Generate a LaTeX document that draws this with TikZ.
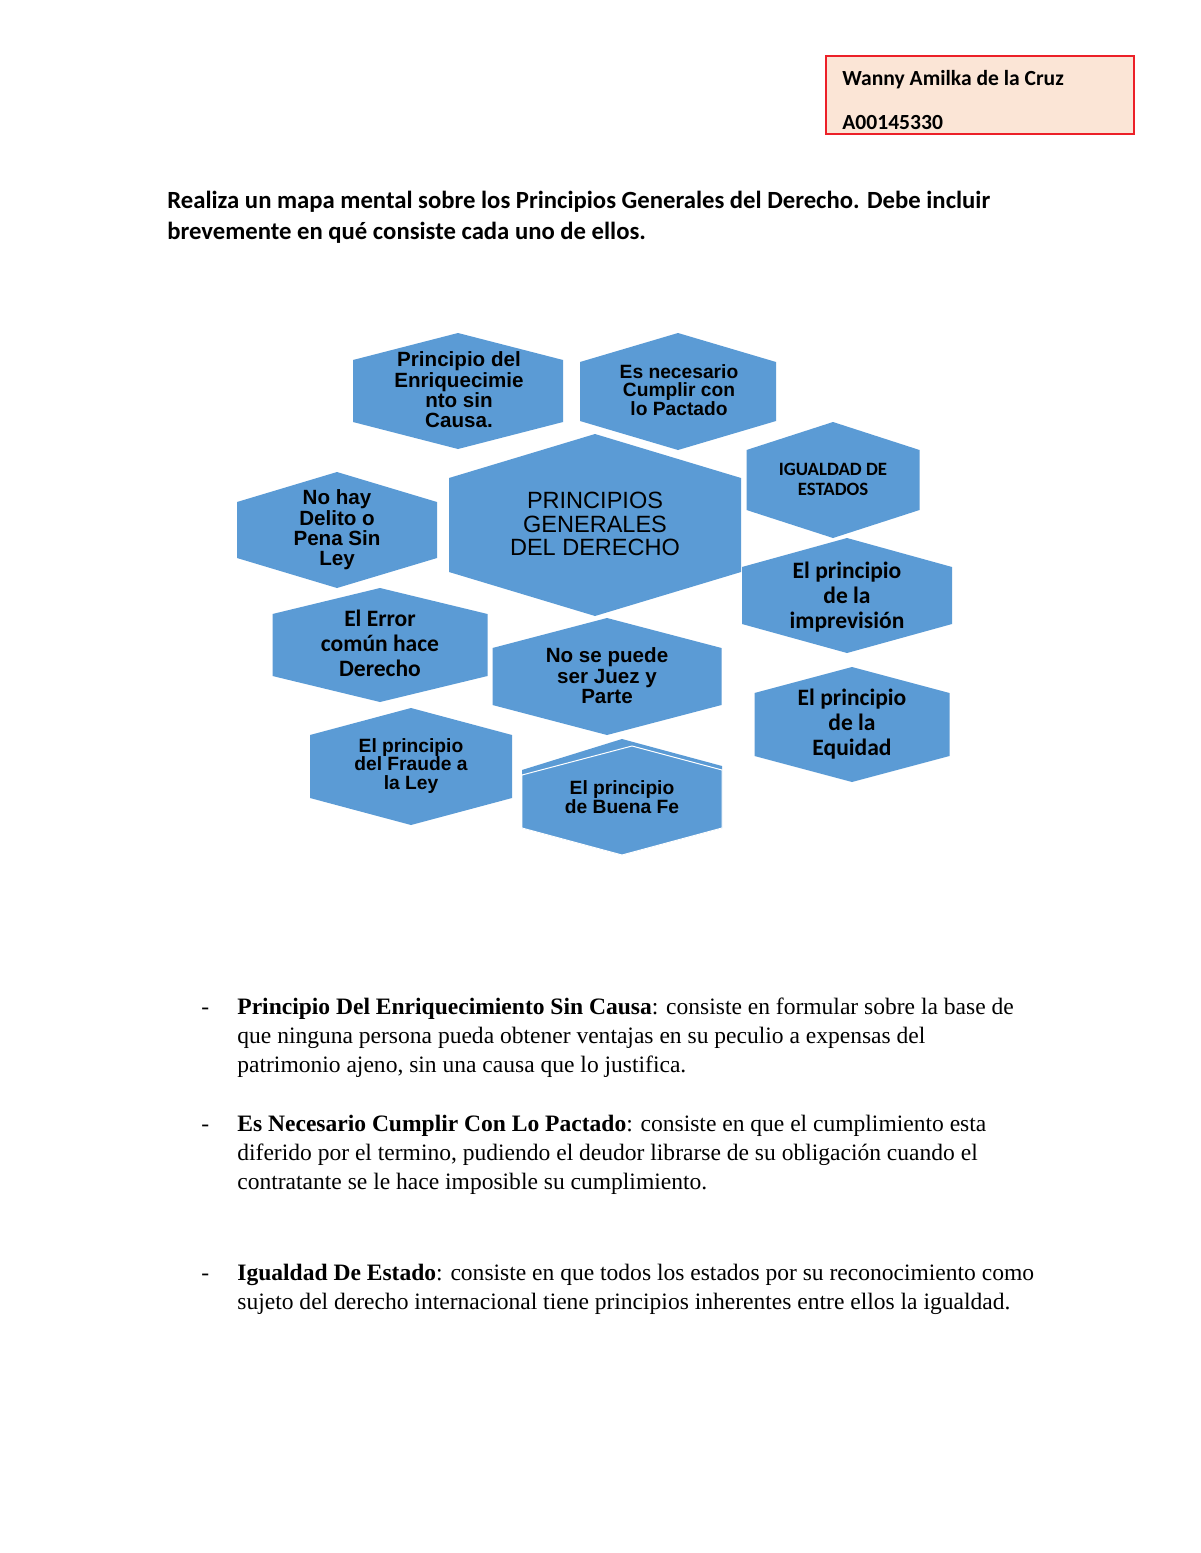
\documentclass[tikz,border=0pt]{standalone}
\usepackage{fontspec}
\setmainfont{Liberation Serif}
\newfontfamily\arialfont{Liberation Sans}
\newfontfamily\calibrifont{Carlito}
\usetikzlibrary{positioning}

\definecolor{hexblue}{RGB}{91,155,213}
\definecolor{namebg}{RGB}{251,229,214}
\definecolor{namered}{RGB}{236,32,40}

% hexagon with pointed top and bottom: centre x, centre y, half width, half height, slant
\newcommand{\hexpath}[5]{(#1,#2-#4) -- (#1+#3,#2-#4+#5) -- (#1+#3,#2+#4-#5) -- (#1,#2+#4) -- (#1-#3,#2+#4-#5) -- (#1-#3,#2-#4+#5) -- cycle}

\begin{document}
\begin{tikzpicture}[
        x=0.51pt, y=-0.51pt,
        hexcell/.style={fill=hexblue, draw=none},
        arialbig/.style={align=center, inner sep=0pt,
                font=\fontsize{12}{12}\selectfont\arialfont},
        arialbold/.style={align=center, inner sep=0pt,
                font=\fontsize{10.5}{10.4}\selectfont\arialfont\bfseries},
        arialsmall/.style={align=center, inner sep=0pt,
                font=\fontsize{9.8}{9.5}\selectfont\arialfont\bfseries},
        calibold/.style={align=center, inner sep=0pt,
                font=\fontsize{12}{12.8}\selectfont\calibrifont\bfseries},
        calismall/.style={align=center, inner sep=0pt,
                font=\fontsize{9.6}{10.2}\selectfont\calibrifont\bfseries},
        headline/.style={anchor=base west, inner sep=0pt,
                font=\fontsize{12.6}{14}\selectfont\calibrifont\bfseries},
        bodyline/.style={anchor=base west, inner sep=0pt,
                font=\fontsize{12}{14}\selectfont}
    ]
    \fill[white] (0,0) rectangle (1200,1553);
    \useasboundingbox (0,0) rectangle (1200,1553);

    % name box
    \filldraw[fill=namebg, draw=namered, line width=0.8pt] (826,56) rectangle (1134,134);
    \node[headline, font=\fontsize{11}{13}\selectfont\calibrifont\bfseries] (autor) at (842,86) {Wanny Amilka de la Cruz};
    \node[headline, font=\fontsize{11}{13}\selectfont\calibrifont\bfseries] (matricula) at (842,130) {A00145330};

    % task
    \node[headline] (tarea1) at (167,209) {Realiza un mapa mental sobre los Principios Generales del Derecho. Debe incluir};
    \node[headline] (tarea2) at (167,239) {brevemente en qué consiste cada uno de ellos.};

    % mind map
    \fill[hexcell] \hexpath{458}{391}{105}{58}{27};
    \node[arialbold] (enriq) at (459,390) {Principio del\\Enriquecimie\\nto sin\\Causa.};

    \fill[hexcell] \hexpath{678}{391.5}{98}{58.5}{29};
    \node[arialsmall] (pacto) at (679,390) {Es necesario\\Cumplir con\\lo Pactado};

    \fill[hexcell] \hexpath{595}{525}{146}{91}{44};
    \node[arialbig] (centro) at (595,524) {PRINCIPIOS\\GENERALES\\DEL DERECHO};

    \fill[hexcell] \hexpath{833}{480}{86.5}{58}{28};
    \node[calismall] (igualdad) at (833,479) {IGUALDAD DE\\ESTADOS};

    \fill[hexcell] \hexpath{337}{530}{100}{58}{30};
    \node[arialbold] (delito) at (337,530) {No hay\\Delito o\\Pena Sin\\Ley};

    \fill[hexcell] \hexpath{847}{595.5}{105}{57.5}{29};
    \node[calibold] (imprev) at (847,597) {El principio\\de la\\imprevisión};

    \fill[hexcell] \hexpath{380}{645}{107.5}{57}{26};
    \node[calibold] (error) at (380,643) {El Error\\común hace\\Derecho};

    \fill[hexcell] \hexpath{607}{676.5}{114.5}{58.5}{30};
    \node[arialbold] (juez) at (607,676) {No se puede\\ser Juez y\\Parte};

    \fill[hexcell] \hexpath{852}{724.5}{97.5}{57.5}{26};
    \node[calibold] (equidad) at (852,724) {El principio\\de la\\Equidad};

    \fill[hexcell] \hexpath{411}{766.5}{101}{58.5}{27};
    \node[arialsmall] (fraude) at (411,766) {El principio\\del Fraude a\\la Ley};

    \fill[hexcell] (522,770) -- (622,739) -- (722,766) -- (722,828) -- (622,855) -- (522,828) -- cycle;
    \filldraw[hexcell, draw=white, line width=0.5pt] (522,775) -- (632,746) -- (722,770) -- (722,828) -- (622,855) -- (522,828) -- cycle;
    \node[arialsmall] (buenafe) at (622,797) {El principio\\de Buena Fe};

    % explanations
    \node[bodyline] (g1) at (201,1014) {-};
    \node[bodyline] (p1a) at (237,1014) {\textbf{Principio Del Enriquecimiento Sin Causa}: consiste en formular sobre la base de};
    \node[bodyline] (p1b) at (237,1043) {que ninguna persona pueda obtener ventajas en su peculio a expensas del};
    \node[bodyline] (p1c) at (237,1072) {patrimonio ajeno, sin una causa que lo justifica.};

    \node[bodyline] (g2) at (201,1131) {-};
    \node[bodyline] (p2a) at (237,1131) {\textbf{Es Necesario Cumplir Con Lo Pactado}: consiste en que el cumplimiento esta};
    \node[bodyline] (p2b) at (237,1160) {diferido por el termino, pudiendo el deudor librarse de su obligación cuando el};
    \node[bodyline] (p2c) at (237,1189) {contratante se le hace imposible su cumplimiento.};

    \node[bodyline] (g3) at (201,1280) {-};
    \node[bodyline] (p3a) at (237,1280) {\textbf{Igualdad De Estado}: consiste en que todos los estados por su reconocimiento como};
    \node[bodyline] (p3b) at (237,1309) {sujeto del derecho internacional tiene principios inherentes entre ellos la igualdad.};
\end{tikzpicture}
\end{document}
